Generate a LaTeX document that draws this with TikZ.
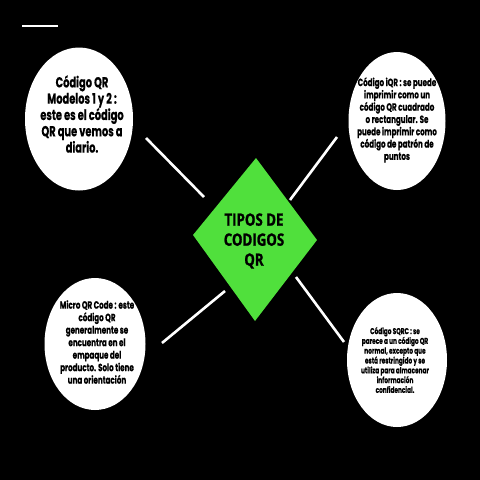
\documentclass[tikz,border=0pt]{standalone}
\usepackage{fontspec}
\setmainfont{Poppins}[FakeStretch=0.68, BoldFeatures={FakeBold=0.4}]
\newfontfamily\diafont{Open Sans}[FakeStretch=0.78, BoldFeatures={FakeBold=1.2}]
\usetikzlibrary{shapes.geometric}
\definecolor{qrgreen}{RGB}{80,224,60}
\tikzset{
  bubble/.style={ellipse, fill=white, draw=none, inner sep=0pt},
  btext/.style={align=center, text=black, font=\bfseries, inner sep=0pt},
  link/.style={draw=white, line width=2.6pt},
}
\begin{document}
\begin{tikzpicture}[x=1pt,y=-1pt]
\useasboundingbox (0,0) rectangle (480,480);
\fill[black] (0,0) rectangle (480,480);
% short decorative line
\coordinate (d1) at (22,26);
\coordinate (d2) at (58,26);
\draw[draw=white, line width=2pt] (d1) -- (d2);
% bubbles
\node[bubble, minimum width=108pt, minimum height=143pt] (tl) at (79,119) {};
\node[bubble, minimum width=97pt, minimum height=138pt] (tr) at (397,121) {};
\node[bubble, minimum width=101pt, minimum height=132pt] (bl) at (95,344) {};
\node[bubble, minimum width=100pt, minimum height=134pt] (br) at (397,360) {};
% diamond
\coordinate (dt) at (256,158);
\coordinate (dr) at (317,240);
\coordinate (db) at (255,321);
\coordinate (dl) at (193,235);
\fill[qrgreen] (dt) -- (dr) -- (db) -- (dl) -- cycle;
\node[align=center, inner sep=0pt, font=\diafont\bfseries\fontsize{17}{20}\selectfont, text=black] (center) at (254,241) {TIPOS DE\\CODIGOS\\QR};
% texts
\node[btext, font=\bfseries\fontsize{14.5}{16.3}\selectfont] (tlt) at (82,114) {Código QR\\Modelos 1 y 2 :\\este es el código\\QR que vemos a\\diario.};
\node[btext, font=\bfseries\fontsize{10.5}{12.3}\selectfont] (trt) at (397,120) {Código iQR : se puede\\imprimir como un\\código QR cuadrado\\o rectangular. Se\\puede imprimir como\\código de patrón de\\puntos};
\node[btext, font=\bfseries\fontsize{10.5}{12.5}\selectfont] (blt) at (97,342) {Micro QR Code : este\\código QR\\generalmente se\\encuentra en el\\empaque del\\producto. Solo tiene\\una orientación};
\node[btext, font=\bfseries\fontsize{8.5}{9.8}\selectfont] (brt) at (395,360) {Código SQRC : se\\parece a un código QR\\normal, excepto que\\está restringido y se\\utiliza para almacenar\\información\\confidencial.};
% connectors
\coordinate (a1) at (146,138); \coordinate (a2) at (204,197);
\coordinate (b1) at (290,200); \coordinate (b2) at (337,137);
\coordinate (c1) at (162,343); \coordinate (c2) at (225,291);
\coordinate (e1) at (296,277); \coordinate (e2) at (344,342);
\draw[link] (a1) -- (a2);
\draw[link] (b1) -- (b2);
\draw[link] (c1) -- (c2);
\draw[link] (e1) -- (e2);
\end{tikzpicture}
\end{document}
